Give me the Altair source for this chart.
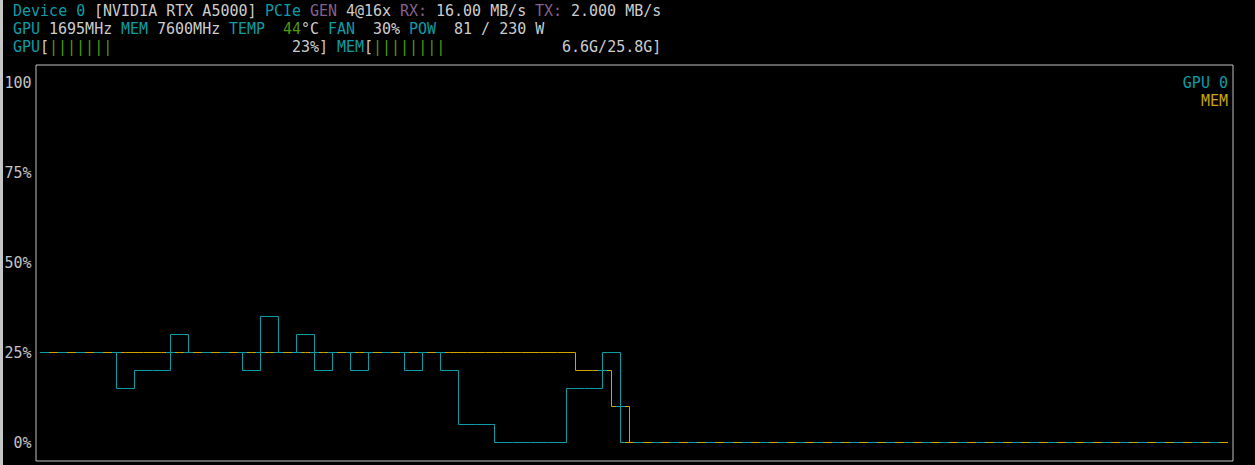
# nvtop style GPU panel (device 0)

import math

import altair as alt
import jinja2
import pandas as pd


# Colours of the terminal theme
CYAN = "#0c9ca6"
ORANGE = "#cfa300"
WHITE = "#cccccc"
PURPLE = "#85608a"
GREEN = "#4e9a06"
FRAME = "#c0c0c0"
FONT = "DejaVu Sans Mono"

# ---- values ----

# GPU utilisation (%), one sample every 2 terminal columns
gpu_util = [
    25, 25, 25, 25, 25, 15, 20, 20, 30, 25, 25, 25, 20, 35, 25, 30, 20,
    25, 20, 25, 25, 20, 25, 20, 5, 5, 0, 0, 0, 0, 15, 15, 25,
    0, 0, 0, 0, 0, 0, 0, 0, 0, 0, 0, 0, 0, 0, 0, 0, 0,
    0, 0, 0, 0, 0, 0, 0, 0, 0, 0, 0, 0, 0, 0, 0, 0, 0,
]

# memory use (%), same rate, one column later
mem_util = [
    25, 25, 25, 25, 25, 25, 25, 25, 25, 25, 25, 25, 25, 25, 25, 25, 25,
    25, 25, 25, 25, 25, 25, 25, 25, 25, 25, 25, 25, 25, 20, 20, 10,
    0, 0, 0, 0, 0, 0, 0, 0, 0, 0, 0, 0, 0, 0, 0, 0, 0,
    0, 0, 0, 0, 0, 0, 0, 0, 0, 0, 0, 0, 0, 0, 0, 0, 0,
]

series_names = ["GPU 0", "MEM"]
y_ticks = [0, 25, 50, 75, 100]

# header lines: (text, colour role)
header_lines = [
    [("Device 0", "key"), (" [NVIDIA RTX A5000] ", "text"), ("PCIe ", "key"),
     ("GEN", "purple"), (" 4@16x ", "text"), ("RX:", "purple"),
     (" 16.00 MB/s ", "text"), ("TX:", "purple"), (" 2.000 MB/s", "text")],
    [("GPU", "key"), (" 1695MHz ", "text"), ("MEM", "key"), (" 7600MHz ", "text"),
     ("TEMP", "key"), ("  ", "text"), ("44", "green"), ("°C ", "text"),
     ("FAN", "key"), ("  30% ", "text"), ("POW", "key"), ("  81 / 230 W", "text")],
    [("GPU", "key"), ("[", "text"), ("|||||||", "green"),
     ("                    23%]", "text"), (" ", "text"), ("MEM", "key"),
     ("[", "text"), ("||||||||", "green"), ("             6.6G/25.8G]", "text")],
]

# ---- terminal grid ----
N_CELLS = 132          # columns covered by the plot line
CELL_PX = 9            # width of a character cell
ROW_STEP = 5           # percent per text row
PLOT_LEFT_COL = 4      # terminal column where the line starts
SAMPLE_CELLS = 2
gpu_phase = -1.5
mem_phase = -0.5


def value_at(values, phase, t):
    i = int(math.floor((t - phase) / SAMPLE_CELLS))
    return values[max(0, min(i, len(values) - 1))]


def step_points(values, phase, name):
    rows = []
    for i, v in enumerate(values):
        rows.append({"t": max(0.0, phase + SAMPLE_CELLS * i), "v": v, "role": name})
    rows.append({"t": float(N_CELLS), "v": values[-1], "role": name})
    return rows


lines_df = pd.DataFrame(
    step_points(mem_util, mem_phase, "MEM") + step_points(gpu_util, gpu_phase, "GPU 0")
)


# cells where both series sit on the same text row: the terminal
# alternates the colour, cyan on even cells, orange on odd ones
def rows_touched(values, phase, c):
    a = value_at(values, phase, c + 0.25)
    b = value_at(values, phase, c + 0.75)
    lo, hi = min(a, b), max(a, b)
    return set(range(lo, hi + ROW_STEP, ROW_STEP))


overlap = []
for c in range(N_CELLS):
    shared = rows_touched(gpu_util, gpu_phase, c) & rows_touched(mem_util, mem_phase, c)
    for r in sorted(shared):
        overlap.append({"t": c, "t2": c + 1, "v": r,
                        "role": series_names[c % 2]})
overlap_df = pd.DataFrame(overlap)

# legend in the top right corner of the frame
legend_df = pd.DataFrame({
    "t": [N_CELLS] * len(series_names),
    "v": [100 - ROW_STEP * i for i in range(len(series_names))],
    "text": series_names,
    "role": series_names,
})

# header texts placed on the character grid above the frame
header = []
for row, segs in enumerate(header_lines):
    col = 1
    for txt, role in segs:
        stripped = txt.strip()
        if stripped:
            lead = len(txt) - len(txt.lstrip())
            header.append({
                "t": col + lead - PLOT_LEFT_COL,
                "v": 105 + ROW_STEP * (len(header_lines) - row),
                "text": stripped,
                "role": role,
            })
        col += len(txt)
header_df = pd.DataFrame(header)

# ---- encodings shared by all layers ----
x_enc = alt.X("t:Q", scale=alt.Scale(domain=[-0.5, N_CELLS + 0.5], nice=False, zero=False),
              axis=None)
y_enc = alt.Y(
    "v:Q",
    scale=alt.Scale(domain=[-ROW_STEP, 100 + ROW_STEP], nice=False, zero=False),
    axis=alt.Axis(
        values=y_ticks,
        labelExpr="datum.value == 100 ? '100' : datum.value + '%'",
        domain=False, ticks=False, grid=False, title=None,
        labelFont=FONT, labelFontSize=15, labelColor="#c2c2c2", labelPadding=4.5,
    ),
)
color_enc = alt.Color(
    "role:N",
    scale=alt.Scale(
        domain=series_names + ["key", "text", "purple", "green"],
        range=[CYAN, ORANGE, CYAN, WHITE, PURPLE, GREEN],
    ),
    legend=None,
)

lines = alt.Chart(lines_df).mark_line(
    interpolate="step-after", strokeWidth=1
).encode(x=x_enc, y=y_enc, color=color_enc, detail="role:N")

shared_cells = alt.Chart(overlap_df).mark_rule(strokeWidth=1).encode(
    x=x_enc, x2="t2:Q", y=y_enc, color=color_enc
)

legend = alt.Chart(legend_df).mark_text(
    align="right", baseline="middle", font=FONT, fontSize=15
).encode(x=x_enc, y=y_enc, text="text:N", color=color_enc)

top_text = alt.Chart(header_df).mark_text(
    align="left", baseline="middle", font=FONT, fontSize=15
).encode(x=x_enc, y=y_enc, text="text:N", color=color_enc)

plot_w = (N_CELLS + 1) * CELL_PX
plot_h = (100 + 2 * ROW_STEP) // ROW_STEP * 18

chart = (
    alt.layer(lines, shared_cells, legend, top_text)
    .properties(
        width=plot_w,
        height=plot_h,
        autosize=alt.AutoSizeParams(type="none"),
        padding={"left": 35.5, "top": 64.5, "right": 20, "bottom": 2},
        background="#000000",
    )
    .configure_view(stroke=FRAME, strokeWidth=1)
)

# page without the white body margin, plus the grey window edge
PAGE = jinja2.Template("""<!DOCTYPE html>
<html>
<head>
<meta charset="utf-8">
<style>
  html, body { margin: 0; padding: 0; background: #000; overflow: hidden; }
  body::before { content: ""; position: fixed; left: 0; top: 0; width: 3px;
                 height: 100%; background: #c6c6c6; z-index: 10; }
  #{{ output_div }} { line-height: 0; }
</style>
<script type="text/javascript" src="{{ base_url }}/vega@{{ vega_version }}"></script>
<script type="text/javascript" src="{{ base_url }}/vega-lite@{{ vegalite_version }}"></script>
<script type="text/javascript" src="{{ base_url }}/vega-embed@{{ vegaembed_version }}"></script>
</head>
<body>
<div id="{{ output_div }}"></div>
<script type="text/javascript">
  vegaEmbed("#{{ output_div }}", {{ spec }}, {{ embed_options }}).catch(console.error);
</script>
</body>
</html>
""")

chart.save("out.html", embed_options={"renderer": "svg", "actions": False}, template=PAGE)
